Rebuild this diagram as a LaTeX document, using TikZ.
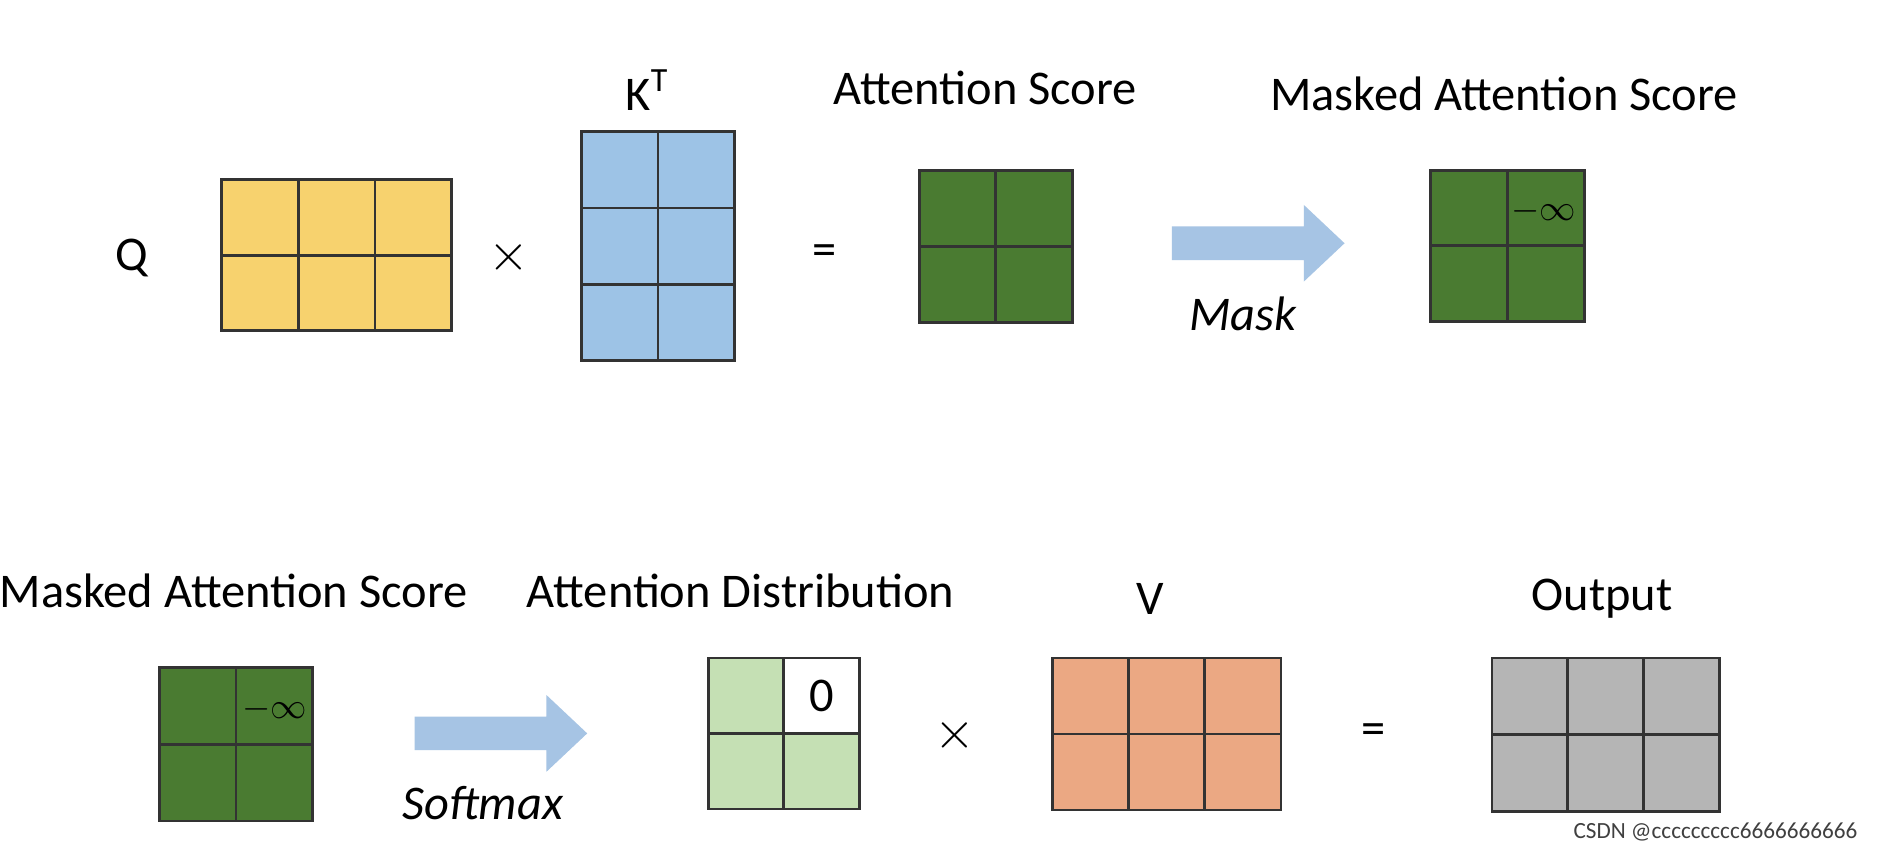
\documentclass[tikz,border=0pt]{standalone}
\usepackage{fontspec}
\setmainfont{Carlito}
\begin{document}
\begin{tikzpicture}[x=0.02cm,y=-0.02cm,
  lbl/.style={font=\fontsize{23}{27}\selectfont,inner sep=0},
  grd/.style={draw=black!80,line width=1.3pt},
  fat/.style={fill=arrowblue,draw=none}]
\definecolor{qy}{HTML}{F7D26E}
\definecolor{kb}{HTML}{9DC3E6}
\definecolor{dg}{HTML}{4A7B31}
\definecolor{lg}{HTML}{C5E0B4}
\definecolor{vo}{HTML}{EBA883}
\definecolor{og}{HTML}{B5B5B5}
\definecolor{arrowblue}{HTML}{A6C4E4}
\useasboundingbox[fill=white] (0,0) rectangle (1568,709);
\newcommand\mymat[7]{%
  \draw[grd,fill=#7] (#1,#2) rectangle (#3,#4);
  \foreach \i in {1,...,#5}{\pgfmathsetmacro\xx{#1+(#3-#1)*\i/#5}\ifnum\i<#5 \draw[grd] (\xx,#2)--(\xx,#4);\fi}
  \foreach \j in {1,...,#6}{\pgfmathsetmacro\yy{#2+(#4-#2)*\j/#6}\ifnum\j<#6 \draw[grd] (#1,\yy)--(#3,\yy);\fi}}
\newcommand\fatarrow[3]{%
  \fill[fat] (#1,#3-14) -- (#2-34,#3-14) -- (#2-34,#3-32) -- (#2,#3) -- (#2-34,#3+32) -- (#2-34,#3+14) -- (#1,#3+14) -- cycle;}
% top row
\node[lbl] (q) at (110,215) {Q};
\mymat{185}{150}{377}{276}{3}{2}{qy}
\node[lbl] (x1) at (425,215) {$\times$};
\node[lbl] (kl) at (540,75) {K\textsuperscript{T}};
\mymat{485}{110}{613}{301}{2}{3}{kb}
\node[lbl] (e1) at (688,213) {=};
\node[lbl] (asl) at (822,73) {Attention Score};
\mymat{767}{142}{895}{269}{2}{2}{dg}
\fatarrow{978}{1122}{203}
\node[lbl,font=\fontsize{23}{27}\selectfont\itshape] (mask) at (1037,262) {Mask};
\node[lbl] (masl) at (1255,78) {Masked Attention Score};
\mymat{1194}{142}{1322}{268}{2}{2}{dg}
\node[lbl,font=\fontsize{17}{20}\selectfont] (inf1) at (1288,176) {$-\infty$};
% bottom row
\node[lbl] (masl2) at (195,493) {Masked Attention Score};
\mymat{133}{557}{261}{685}{2}{2}{dg}
\node[lbl,font=\fontsize{17}{20}\selectfont] (inf2) at (229,592) {$-\infty$};
\fatarrow{346}{490}{612}
\node[lbl,font=\fontsize{23}{27}\selectfont\itshape] (sm) at (403,670) {Softmax};
\node[lbl] (adl) at (618,493) {Attention Distribution};
\mymat{591}{549}{717}{675}{2}{2}{lg}
\draw[grd,fill=white] (654,549) rectangle (717,612);
\node[lbl] (zero) at (686,581) {0};
\node[lbl] (x2) at (797,614) {$\times$};
\node[lbl] (vl) at (960,500) {V};
\mymat{878}{549}{1069}{676}{3}{2}{vo}
\node[lbl] (e2) at (1146,613) {=};
\node[lbl] (ol) at (1337,500) {Output};
\mymat{1245}{549}{1435}{677}{3}{2}{og}
\node[font=\fontsize{11}{13}\selectfont,text=black!75,anchor=east] (wm) at (1556,694) {CSDN @ccccccccc6666666666};
\end{tikzpicture}
\end{document}
